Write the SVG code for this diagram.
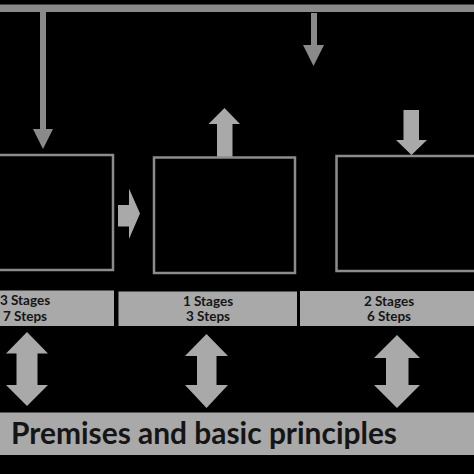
<svg xmlns="http://www.w3.org/2000/svg" width="474" height="474" viewBox="0 0 474 474">
<style>
.dark{fill:#8a8a8a}
.light{fill:#a9a9a9}
.box{fill:#000;stroke:#8c8c8c;stroke-width:2.5}
.lbl{font-family:Lato,"Open Sans","Liberation Sans",sans-serif;font-weight:bold;fill:#151515;text-anchor:middle}
</style>
<rect width="474" height="474" fill="#000"/>
<g id="topbar"><rect class="dark" x="0" y="4.5" width="474" height="7.5"/></g>
<g id="connectors">
  <polygon class="dark" points="40,12 46,12 46,129 53,129 43,149 33,129 40,129"/>
  <polygon class="dark" points="311,13 317,13 317,45 324,45 313.5,66 303,45 311,45"/>
  <polygon class="light" points="217,157 232.5,157 232.5,124 240,124 224.5,108 208.5,124 217,124"/>
  <polygon class="light" points="403.5,110 419,110 419,140 427,140 411.5,155 396,140 403.5,140"/>
  <polygon class="light" points="118,205 129,205 129,188.5 140,213.5 129,239 129,226.5 118,226.5"/>
  <polygon class="light" points="27,332 48,353.5 37.5,353.5 37.5,385 48,385 27,406 6,385 16.5,385 16.5,353.5 6,353.5"/>
  <polygon class="light" points="206.5,334 228,356 216.5,356 216.5,385 228,385 206.5,408 185,385 197,385 197,356 185,356"/>
  <polygon class="light" points="397,335 420,358 408.5,358 408.5,385 420,385 397,408 374,385 386,385 386,358 374,358"/>
</g>
<g id="box1"><rect class="box" x="-10" y="155" width="123" height="115"/></g>
<g id="box2"><rect class="box" x="154" y="157.5" width="141" height="115.5"/></g>
<g id="box3"><rect class="box" x="336.5" y="156" width="150" height="115"/></g>
<g id="label1"><rect class="light" x="-64" y="290.5" width="178" height="35.5"/>
  <text class="lbl" x="25" y="305" font-size="13.5">3 Stages</text>
  <text class="lbl" x="25" y="320.5" font-size="13.5">7 Steps</text></g>
<g id="label2"><rect class="light" x="118.5" y="291.5" width="178.5" height="34.5"/>
  <text class="lbl" x="208" y="305.5" font-size="13.5">1 Stages</text>
  <text class="lbl" x="208" y="321" font-size="13.5">3 Steps</text></g>
<g id="label3"><rect class="light" x="300" y="291" width="180" height="35"/>
  <text class="lbl" x="389" y="305.5" font-size="13.5">2 Stages</text>
  <text class="lbl" x="389" y="321" font-size="13.5">6 Steps</text></g>
<g id="premises"><rect class="light" x="0" y="412.5" width="474" height="42.5"/>
  <text class="lbl" x="11" y="444" font-size="31" textLength="386" lengthAdjust="spacingAndGlyphs" style="text-anchor:start">Premises and basic principles</text></g>
</svg>
